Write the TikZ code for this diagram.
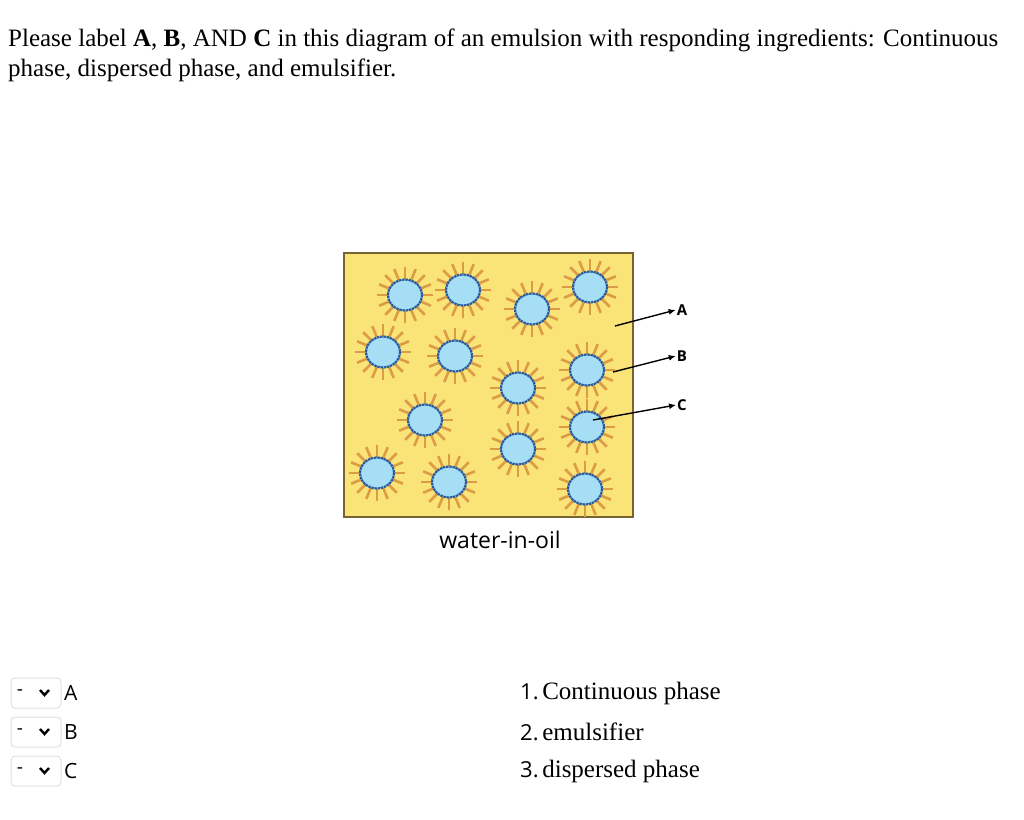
\documentclass[tikz,border=0pt]{standalone}
\usepackage{fontspec}
\setmainfont{Liberation Serif}
\setsansfont{Open Sans}
\usetikzlibrary{calc}
\definecolor{oil}{RGB}{250,228,120}
\definecolor{drop}{RGB}{165,222,245}
\definecolor{rim}{RGB}{40,90,160}
\definecolor{spike}{RGB}{220,155,70}
\definecolor{frame}{RGB}{120,100,50}
\tikzset{
  lbl/.style={font=\sffamily\bfseries\fontsize{15}{17}\selectfont,inner sep=1pt},
  arr/.style={-{Latex[length=7pt,width=6pt]},line width=1.4pt},
  dd/.style={draw=black!12,rounded corners=4pt,minimum width=50pt,minimum height=30pt,line width=1pt},
  item/.style={anchor=west,inner sep=0pt}
}
\usetikzlibrary{arrows.meta}
\newcommand{\droplet}[2]{%
  \foreach \a in {0,22.5,...,340}{
    \draw[spike,line width=2.6pt] ($(#1,#2)+(\a:16pt)$) -- ($(#1,#2)+(\a:28pt)$);}
  \fill[drop] (#1,#2) ellipse (17 and 15.5);
  \draw[rim,line width=2.2pt,dash pattern=on 2.5pt off 0.7pt] (#1,#2) ellipse (17 and 15.5);
}
\begin{document}
\begin{tikzpicture}[x=1pt,y=-1pt]
\useasboundingbox (0,0) rectangle (1024,819);
\node[anchor=west,font=\fontsize{25}{28}\selectfont,inner sep=0pt] (t1) at (8,40) {Please label \textbf{A}, \textbf{B}, AND \textbf{C} in this diagram of an emulsion with responding ingredients: Continuous};
\node[anchor=west,font=\fontsize{25}{28}\selectfont,inner sep=0pt] (t2) at (8,70) {phase, dispersed phase, and emulsifier.};
\draw[frame,fill=oil,line width=1.5pt] (344,253) rectangle (633,517);
\foreach \x/\y in {405/295,463/290,532/309,590/287,383/352,455/356,518/388,587/370,425/420,518/449,587/427,377/473,449/482,585/489}{\droplet{\x}{\y}}
\coordinate (pa) at (615,326);
\coordinate (pb) at (613,372);
\coordinate (pc) at (593,420);
\node[lbl] (A) at (682,310) {A};
\node[lbl] (B) at (682,356) {B};
\node[lbl] (C) at (682,405) {C};
\draw[arr] (pa) -- (A.west);
\draw[arr] (pb) -- (B.west);
\draw[arr] (pc) -- (C.west);
\node[font=\sffamily\fontsize{23}{26}\selectfont] (w) at (500,540) {water-in-oil};
\foreach \n/\y in {A/693,B/732,C/771}{
  \node[dd] (d\n) at (36,\y) {};
  \node[font=\sffamily\fontsize{19}{20}\selectfont] at (20,\y) {-};
  \draw[line width=2.4pt] (40,\y-3) -- (44.5,\y+2) -- (49,\y-3);
  \node[anchor=west,font=\sffamily\fontsize{21}{24}\selectfont,inner sep=0pt] (l\n) at (64,\y) {\n};
}
\node[item] (i1) at (520,693) {\sffamily\fontsize{22}{24}\selectfont 1.\,\rmfamily\fontsize{25}{28}\selectfont Continuous phase};
\node[item] (i2) at (520,732) {\sffamily\fontsize{22}{24}\selectfont 2.\,\rmfamily\fontsize{25}{28}\selectfont emulsifier};
\node[item] (i3) at (520,771) {\sffamily\fontsize{22}{24}\selectfont 3.\,\rmfamily\fontsize{25}{28}\selectfont dispersed phase};
\end{tikzpicture}
\end{document}
